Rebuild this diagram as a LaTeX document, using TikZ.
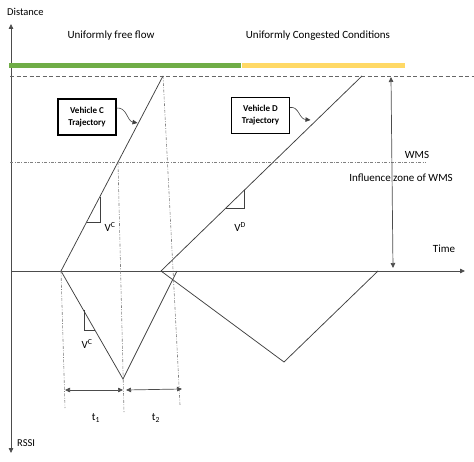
\documentclass[tikz,border=0pt]{standalone}
\usepackage{fontspec}
\setmainfont{Carlito}
\usetikzlibrary{arrows.meta}
\begin{document}
\begin{tikzpicture}[x=1pt,y=-1pt,
  axis/.style={draw=black!70, line width=0.8pt},
  traj/.style={draw=black!75, line width=0.75pt},
  guide/.style={draw=black!50, line width=0.6pt, dash pattern=on 3pt off 1.5pt on 0.8pt off 1.5pt},
  topdash/.style={draw=black!60, line width=0.7pt, dash pattern=on 4pt off 2.5pt},
  tip/.style={-{Triangle[length=5pt,width=4.5pt]}},
  dtip/.style={{Triangle[length=5pt,width=4.5pt]}-{Triangle[length=5pt,width=4.5pt]}},
  lbl/.style={font=\fontsize{11}{13}\selectfont, inner sep=0pt},
  small/.style={font=\fontsize{10.5}{12}\selectfont, inner sep=0pt},
  vbox/.style={draw=black, line width=1.1pt, minimum width=58pt, minimum height=36pt, inner sep=0pt, align=center, font=\fontsize{9}{12}\selectfont\bfseries}
]
\useasboundingbox (0,0) rectangle (474,462);

% axes
\coordinate (ytop) at (11,24);
\coordinate (ybot) at (11,453);
\coordinate (x0) at (11,271);
\coordinate (xend) at (465,271);
\draw[axis,dtip] (ytop) -- (ybot);
\draw[axis,tip] (x0) -- (xend);
\node[small, anchor=west] (dist) at (7,12) {Distance};
\node[small, anchor=west] (rssi) at (17,443) {RSSI};
\node[lbl] (time) at (444,249) {Time};

% condition bars
\coordinate (g0) at (9,65.5);
\coordinate (g1) at (241,65.5);
\coordinate (y1) at (405,65.5);
\draw[line width=5pt, draw={rgb,255:red,112;green,173;blue,71}] (g0) -- (g1);
\draw[line width=5pt, draw={rgb,255:red,255;green,217;blue,102}] (g1) ++(1,0) -- (y1);
\node[lbl] (free) at (111,36) {Uniformly free flow};
\node[lbl] (cong) at (318,36) {Uniformly Congested Conditions};

% reference lines
\coordinate (t0) at (10,76);
\coordinate (t1) at (474,76);
\draw[topdash] (t0) -- (t1);
\coordinate (w0) at (10,162);
\coordinate (w1) at (425,162);
\draw[guide] (w0) -- (w1);
\node[lbl] (wms) at (417,155) {WMS};
\node[lbl] (zone) at (401,178) {Influence zone of WMS};
\coordinate (za) at (391,77);
\coordinate (zb) at (393,268);
\draw[axis,line width=0.7pt,dtip] (za) -- (zb);

% trajectories
\coordinate (cS) at (61,271);
\coordinate (cE) at (163,76);
\coordinate (dS) at (161,271);
\coordinate (dE) at (362,76);
\draw[traj] (cS) -- (cE);
\draw[traj] (dS) -- (dE);

% RSSI curves
\coordinate (cB) at (123,379);
\coordinate (cR) at (177,271);
\coordinate (dB) at (284,362);
\coordinate (dR) at (378,271);
\draw[traj] (cS) -- (cB) -- (cR);
\draw[traj] (dS) -- (dB) -- (dR);

% vertical guides
\coordinate (v1a) at (61,271);
\coordinate (v1b) at (65,408);
\coordinate (v2a) at (118,162);
\coordinate (v2b) at (124,413);
\coordinate (v3a) at (163,76);
\coordinate (v3b) at (180,405);
\draw[guide] (v1a) -- (v1b);
\draw[guide] (v2a) -- (v2b);
\draw[guide] (v3a) -- (v3b);

% slope triangles
\draw[traj] (86.6,222) -- (100,222) -- (100,197);
\node[lbl] (vc1) at (110,227) {V\textsuperscript{C}};
\draw[traj] (226,208) -- (244,208) -- (244,190);
\node[lbl] (vd) at (240,227) {V\textsuperscript{D}};
\draw[traj] (84,310) -- (84,330) -- (95,330);
\node[lbl] (vc2) at (87,344) {V\textsuperscript{C}};

% intervals
\coordinate (i1a) at (65,390);
\coordinate (i1b) at (123,390);
\coordinate (i2a) at (126,390);
\coordinate (i2b) at (182,389);
\draw[axis,line width=0.7pt,dtip] (i1a) -- (i1b);
\draw[axis,line width=0.7pt,dtip] (i2a) -- (i2b);
\node[lbl] (lt1) at (96,418) {t\textsubscript{1}};
\node[lbl] (lt2) at (156,418) {t\textsubscript{2}};

% vehicle boxes
\node[vbox] (boxC) at (87,117) {Vehicle C\\Trajectory};
\node[vbox] (boxD) at (260.5,115.5) {Vehicle D\\Trajectory};
\coordinate (aC) at (137.5,123);
\coordinate (aD) at (310.5,120);
\draw[traj,line width=0.6pt,tip] (boxC.east) ++(0,-9) .. controls (127,107) and (127,121) .. (aC);
\draw[traj,line width=0.6pt,tip] (boxD.east) ++(0,-8) .. controls (299,106) and (299,119) .. (aD);
\end{tikzpicture}
\end{document}
